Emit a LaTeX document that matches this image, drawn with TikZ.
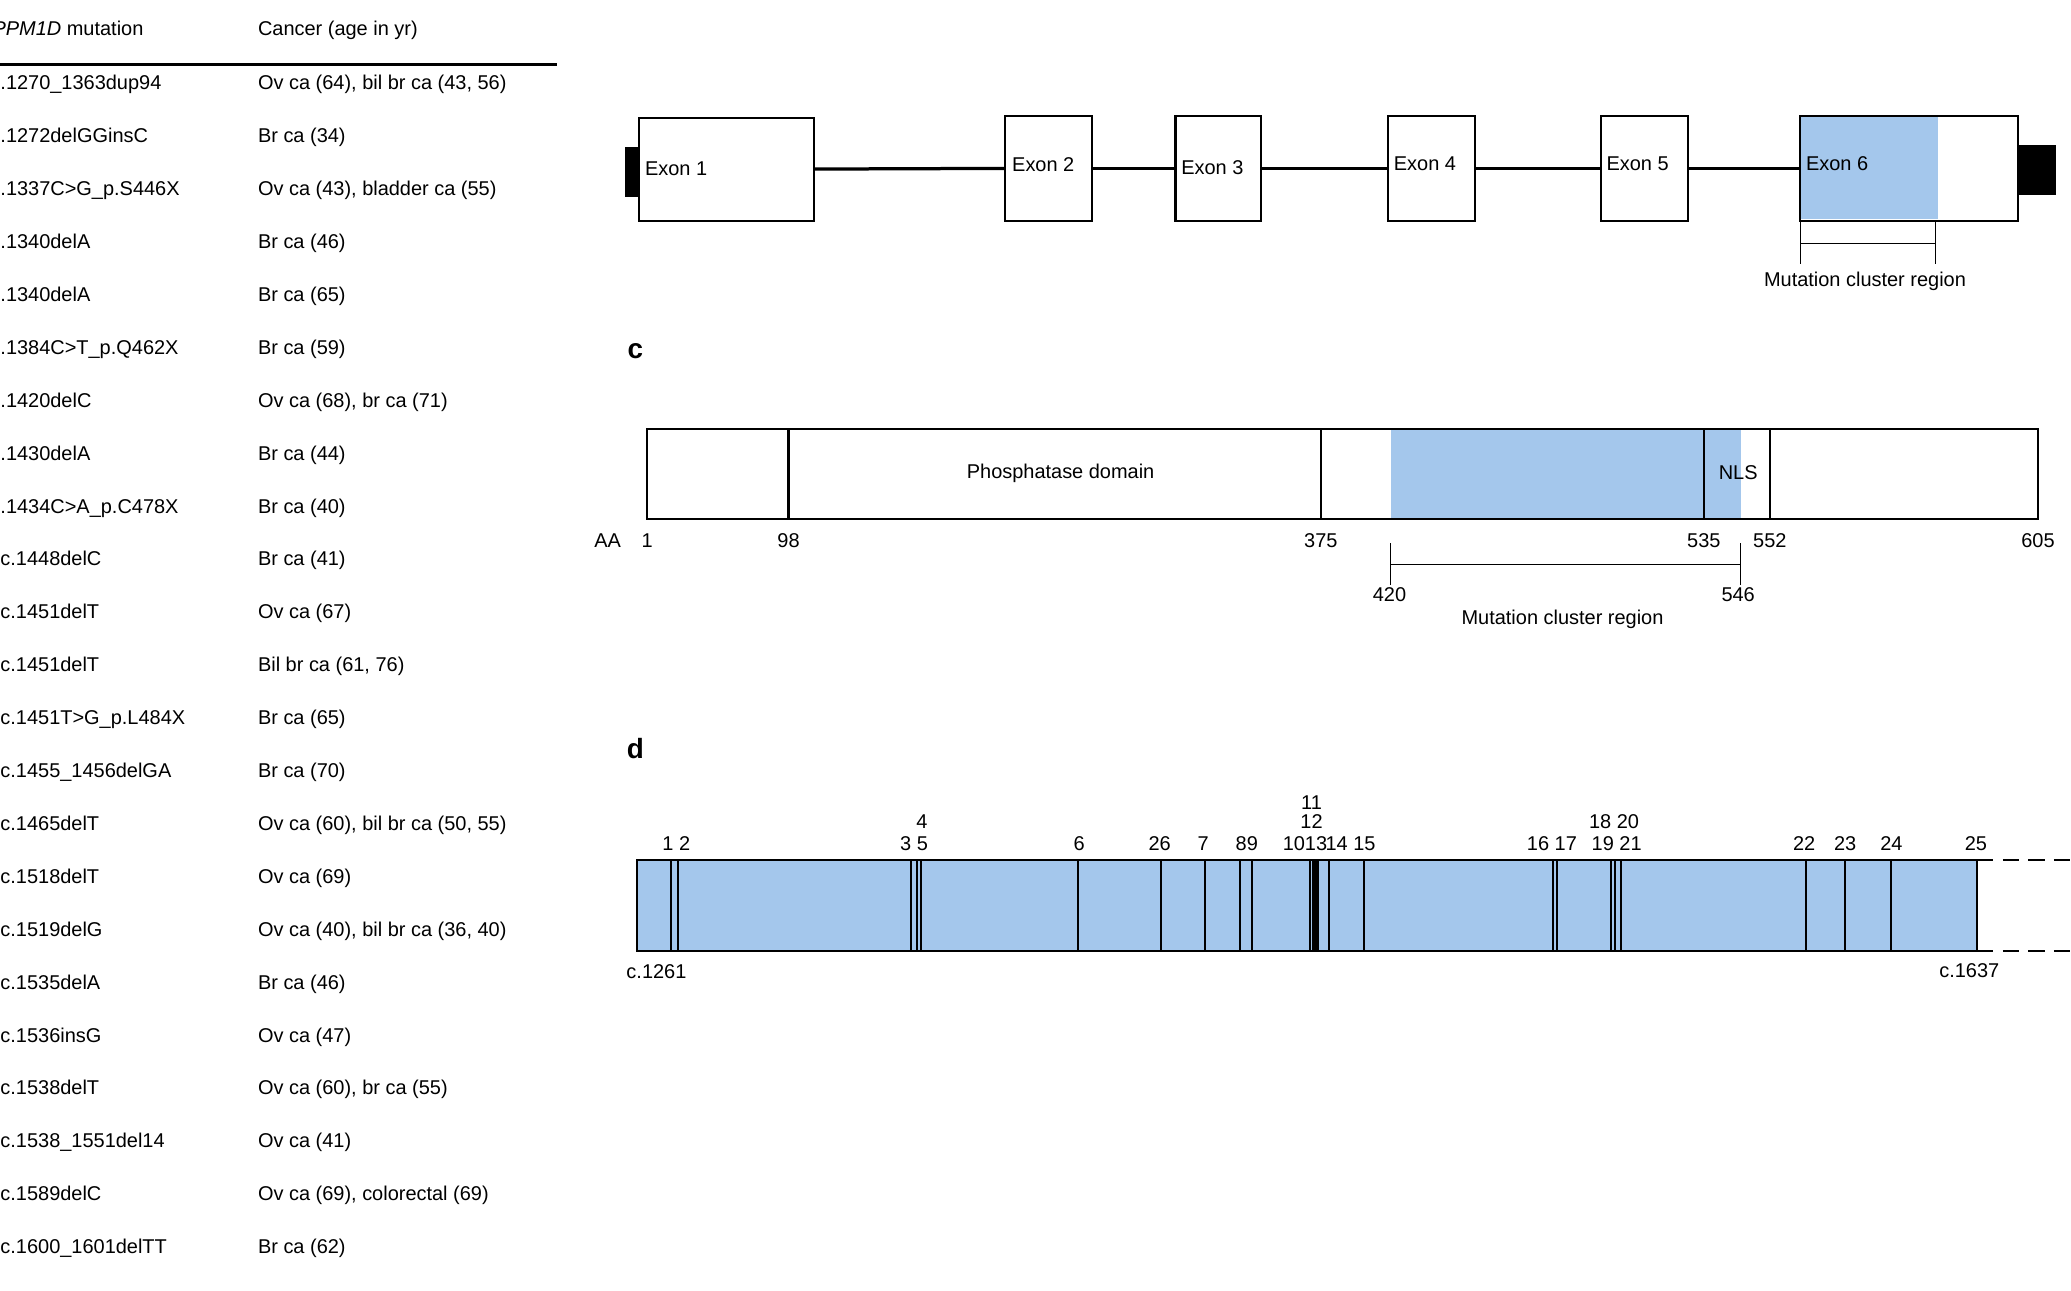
\documentclass[tikz,border=0pt]{standalone}
\usepackage{fontspec}
\setmainfont{Liberation Sans}
\usetikzlibrary{positioning}
\definecolor{clusterblue}{RGB}{164,199,236}
\begin{document}
\begin{tikzpicture}[x=0.02cm,y=-0.02cm,
    every node/.style={font=\fontsize{8.6}{10}\selectfont,inner sep=0pt},
    exon_box/.style={draw,line width=0.9pt},
    cap_box/.style={fill=black},
    link/.style={line width=1.4pt},
    mark_line/.style={line width=0.9pt},
    panel_label/.style={font=\fontsize{12}{14}\selectfont\bfseries}]
\useasboundingbox (0,0) rectangle (1568,977);

% table
\node[anchor=base west] (h1) at (-6,27) {\textit{PPM1D} mutation};
\node[anchor=base west] (h2) at (195,27) {Cancer (age in yr)};
\draw[line width=1.2pt] (-5,49) -- (422,49);
\foreach \i/\m/\c in {1/.1270\_1363dup94/{Ov ca (64), bil br ca (43, 56)},
    2/.1272delGGinsC/{Br ca (34)},
    3/.1337C>G\_p.S446X/{Ov ca (43), bladder ca (55)},
    4/.1340delA/{Br ca (46)},
    5/.1340delA/{Br ca (65)},
    6/.1384C>T\_p.Q462X/{Br ca (59)},
    7/.1420delC/{Ov ca (68), br ca (71)},
    8/.1430delA/{Br ca (44)},
    9/.1434C>A\_p.C478X/{Br ca (40)},
    10/c.1448delC/{Br ca (41)},
    11/c.1451delT/{Ov ca (67)},
    12/c.1451delT/{Bil br ca (61, 76)},
    13/c.1451T>G\_p.L484X/{Br ca (65)},
    14/c.1455\_1456delGA/{Br ca (70)},
    15/c.1465delT/{Ov ca (60), bil br ca (50, 55)},
    16/c.1518delT/{Ov ca (69)},
    17/c.1519delG/{Ov ca (40), bil br ca (36, 40)},
    18/c.1535delA/{Br ca (46)},
    19/c.1536insG/{Ov ca (47)},
    20/c.1538delT/{Ov ca (60), br ca (55)},
    21/c.1538\_1551del14/{Ov ca (41)},
    22/c.1589delC/{Ov ca (69), colorectal (69)},
    23/c.1600\_1601delTT/{Br ca (62)}}{
  \node[anchor=base west] (mut\i) at (0,{28+40.05*\i}) {\m};
  \node[anchor=base west] (can\i) at (195,{28+40.05*\i}) {\c};
}

% b: gene structure
\node[cap_box,minimum width=0.22cm,minimum height=0.76cm] (capL) at (478.5,130) {};
\node[cap_box,minimum width=0.58cm,minimum height=0.76cm] (capR) at (1542.5,129) {};
\fill[clusterblue] (1363,88) rectangle (1467,166);
\node[exon_box,fill=white,minimum width=2.64cm,minimum height=1.56cm] (ex1) at (550,128) {};
\node[exon_box,minimum width=1.32cm,minimum height=1.58cm] (ex2) at (794,127.5) {};
\node[exon_box,minimum width=1.30cm,minimum height=1.58cm] (ex3) at (922.5,127.5) {};
\node[exon_box,minimum width=1.32cm,minimum height=1.58cm] (ex4) at (1084,127.5) {};
\node[exon_box,minimum width=1.32cm,minimum height=1.58cm] (ex5) at (1245,127.5) {};
\node[exon_box,minimum width=3.30cm,minimum height=1.58cm] (ex6) at (1445.5,127.5) {};
\draw[link] (ex1.east) -- (ex2.west);
\draw[link] (ex2.east) -- (ex3.west);
\draw[link] (ex3.east) -- (ex4.west);
\draw[link] (ex4.east) -- (ex5.west);
\draw[link] (ex5.east) -- (ex6.west);
\node[anchor=west] at (488,128) {Exon 1};
\node[anchor=west] at (766,125) {Exon 2};
\node[anchor=west] at (894,127) {Exon 3};
\node[anchor=west] at (1055,124) {Exon 4};
\node[anchor=west] at (1216,124) {Exon 5};
\node[anchor=west] at (1367,124) {Exon 6};
\coordinate (bl) at (1363,184);
\coordinate (br) at (1465,184);
\draw (bl) -- (br);
\draw ([yshift=-9]bl) -- ([yshift=9]bl);
\draw ([yshift=-9]br) -- ([yshift=9]br);
\node (bcl) at (1412,213) {Mutation cluster region};

% c: protein
\node[panel_label] (c) at (481,266) {c};
\fill[clusterblue] (1053,325) rectangle (1318,393);
\draw[exon_box] (490,325) rectangle (1543,393);
\foreach \x in {597,1000,1290,1340}
  \draw[exon_box] (\x,325) -- (\x,393);
\node (pd) at (803,358) {Phosphatase domain};
\node (nls) at (1316,358) {NLS};
\foreach \x/\t in {460/AA,490/1,597/98,1000/375,1290/535,1340/552,1543/605}
  \node at (\x,409) {\t};
\coordinate (cl) at (1053,427);
\coordinate (cr) at (1318,427);
\draw (cl) -- (cr);
\draw ([yshift=-9]cl) -- ([yshift=9]cl);
\draw ([yshift=-9]cr) -- ([yshift=9]cr);
\node at (1052,450) {420};
\node at (1316,450) {546};
\node (ccl) at (1183,469) {Mutation cluster region};

% d: cluster region
\node[panel_label] (d) at (481,567) {d};
\fill[clusterblue] (482,651) rectangle (1497,720);
\draw[exon_box] (1497,651) -- (482,651) -- (482,720) -- (1497,720);
\draw[exon_box,dashed,dash pattern=on 7pt off 4pt] (1497,651) -- (1568,651);
\draw[exon_box,dashed,dash pattern=on 7pt off 4pt] (1497,720) -- (1568,720);
\foreach \x in {508,513,690,694,697,816,879,912,939,948,992,994,996,998,1006,1033,1176,1179,1220,1223,1227,1367,1397,1432,1497}
  \draw[mark_line] (\x,651) -- (\x,720);
\foreach \x/\t in {512/1 2,692/3 5,817/6,878/26,911/7,944/89,988/1013,1012/14,1033/15,1175/16 17,1224/19 21,1366/22,1397/23,1432/24,1496/25}
  \node at (\x,639) {\t};
\node at (698,622) {4};
\node at (993,622) {12};
\node at (993,608) {11};
\node at (1222,622) {18 20};
\node at (497,736) {c.1261};
\node at (1491,735) {c.1637};
\end{tikzpicture}
\end{document}
